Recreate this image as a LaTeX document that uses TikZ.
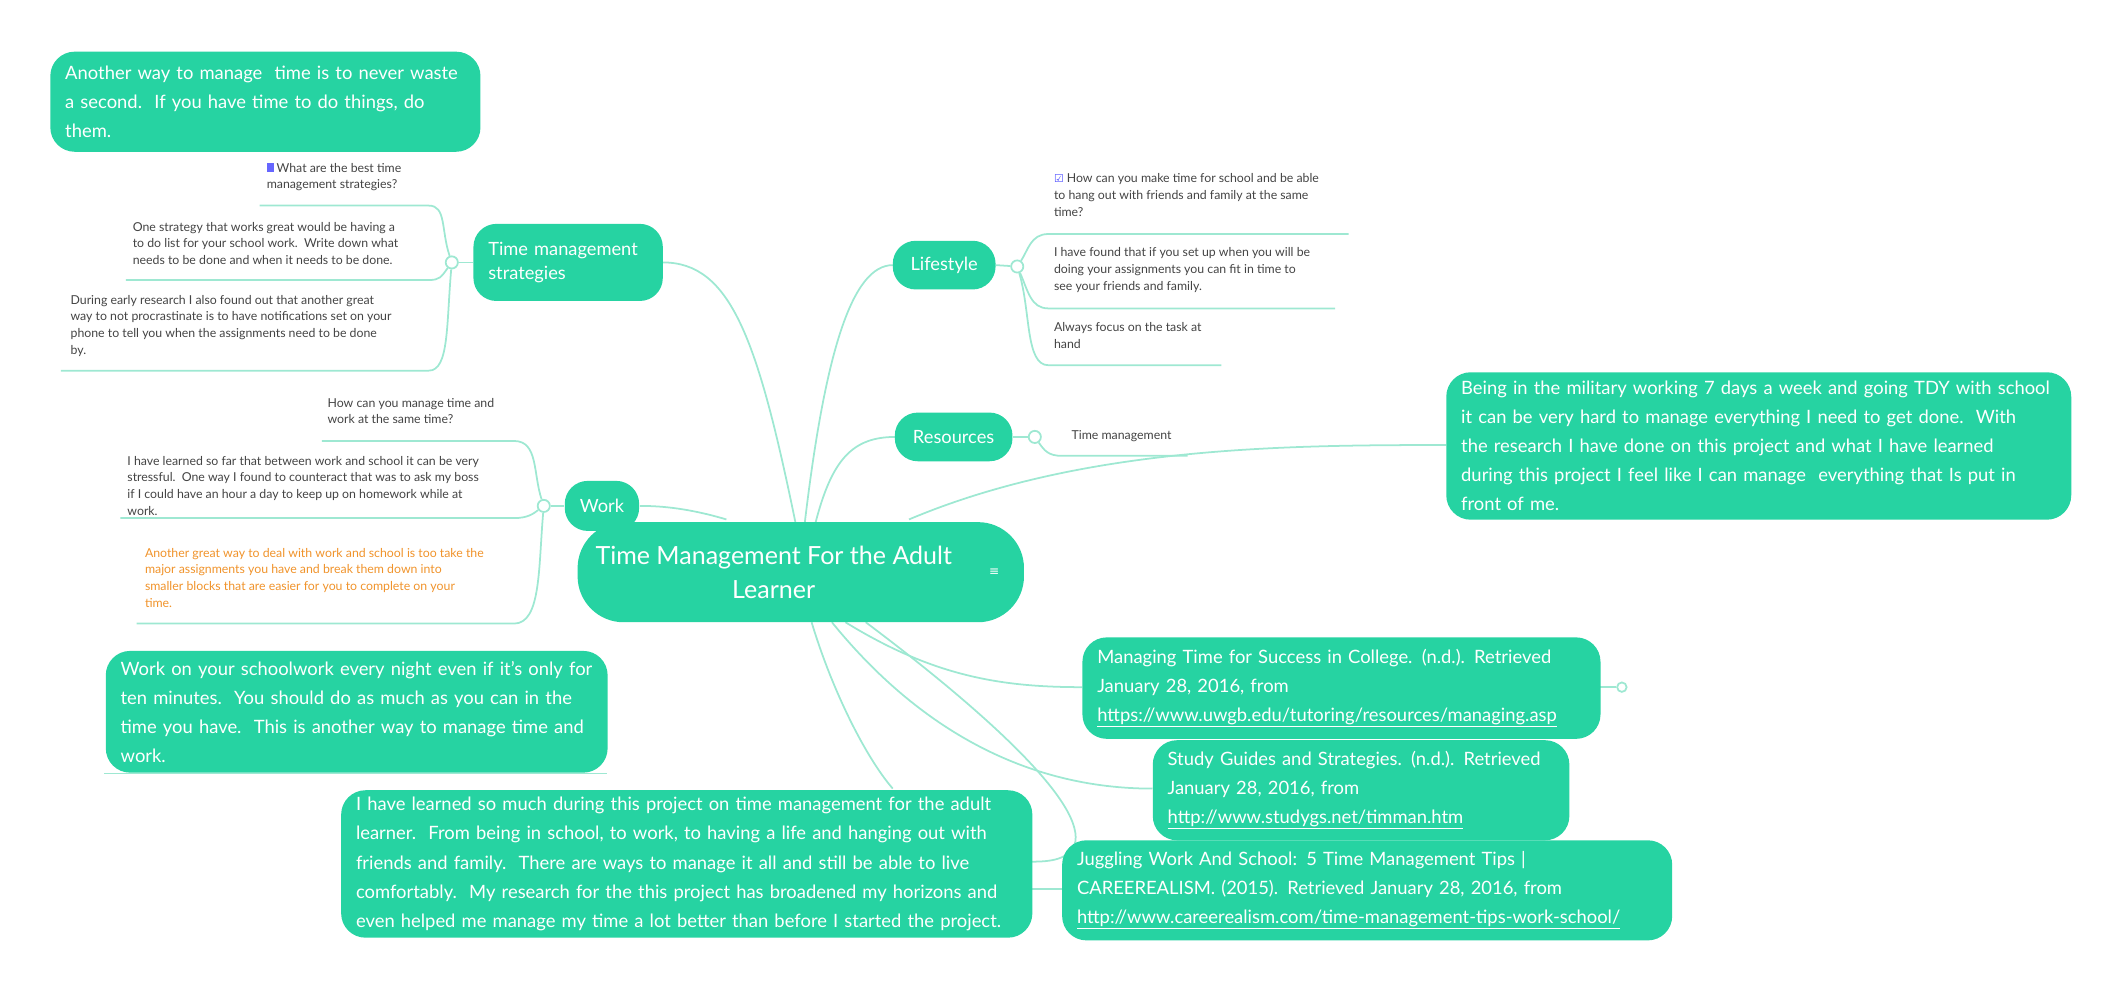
\documentclass[tikz,border=0pt]{standalone}
\usepackage{fontspec}
\setmainfont{Lato}
\newfontfamily\djv{DejaVu Sans}
\definecolor{tealbox}{HTML}{26D3A2}
\definecolor{lnc}{HTML}{9EE8D2}
\definecolor{txtg}{HTML}{444444}
\definecolor{orng}{HTML}{F0932B}
\begin{document}
\begin{tikzpicture}[x=1pt,y=-1pt,
 box/.style={fill=tealbox,text=white,rounded corners=18pt,inner xsep=11pt,inner ysep=0,align=left,anchor=north west,font=\fontsize{13.6}{21.5}\selectfont},
 topic/.style={fill=tealbox,text=white,rounded corners=17pt,inner sep=0,font=\fontsize{13.5}{18}\selectfont,align=left},
 small/.style={anchor=north west,inner sep=0,text=txtg,align=left,font=\fontsize{9.1}{12.4}\selectfont},
 conn/.style={draw=lnc,line width=1.3pt},
 hub/.style={circle,draw=lnc,fill=white,line width=1.3pt,minimum size=9pt,inner sep=0}]
\useasboundingbox (0,0) rectangle (1568,733);
% connectors first
\draw[conn] (588,386) .. controls (560,250) and (540,194) .. (490,194);
\draw[conn] (537,384) .. controls (510,376) and (490,374) .. (473,374);
\draw[conn] (595,386) .. controls (610,260) and (630,196) .. (660,196);
\draw[conn] (603,386) .. controls (615,340) and (630,323) .. (662,323);
\draw[conn] (672,384) .. controls (800,330) and (950,329) .. (1069,329);
\draw[conn] (625,460) .. controls (690,500) and (740,508) .. (800,508);
\draw[conn] (615,460) .. controls (680,540) and (760,583) .. (852,583);
\draw[conn] (640,460) .. controls (720,520) and (800,590) .. (795,622) .. controls (792,636) and (775,637) .. (763,637);
\draw[conn] (763,657) -- (785,657);
\draw[conn] (600,460) .. controls (615,510) and (640,560) .. (660,583);
\draw[conn] (1183,508) -- (1195,508);
\node[hub,minimum size=7pt] (coll) at (1199,508) {};
% root
\node[fill=tealbox,text=white,rounded corners=34pt,minimum width=330pt,minimum height=74pt,inner sep=0] (root) at (592,423) {};
\node[text=white,align=center,font=\fontsize{18.5}{25}\selectfont,inner sep=0] (rootlbl) at (572,423) {Time Management For the Adult\\Learner};
\node[text=white,font=\djv\fontsize{9}{9}\selectfont] (icon) at (735,423) {≡};
% Time management strategies
\node[topic,minimum width=140pt,minimum height=57pt,text width=118pt] (tms) at (420,194) {Time management\\strategies};
\node[hub] (htms) at (334,194) {};
\draw[conn] (tms.west) -- (htms);
\draw[conn] (htms) .. controls (326,170) and (330,152) .. (317,152) -- (192,152);
\draw[conn] (htms) .. controls (326,205) and (325,207) .. (317,207) -- (93,207);
\draw[conn] (htms) .. controls (330,240) and (332,274) .. (317,274) -- (45,274);
\node[small] (t1) at (197,120) {\textcolor{blue!60}{\rule{5pt}{7pt}} What are the best time\\management strategies?};
\node[small] (t2) at (98,164) {One strategy that works great would be having a\\to do list for your school work.\ \ Write down what\\needs to be done and when it needs to be done.};
\node[small] (t3) at (52,218) {During early research I also found out that another great\\way to not procrastinate is to have notifications set on your\\phone to tell you when the assignments need to be done\\by.};
% Work
\node[topic,minimum width=55pt,minimum height=37pt,align=center] (work) at (445,374) {Work};
\node[hub] (hw) at (402,374) {};
\draw[conn] (work.west) -- (hw);
\draw[conn] (hw) .. controls (394,350) and (398,326) .. (380,326) -- (238,326);
\draw[conn] (hw) .. controls (394,380) and (390,383) .. (380,383) -- (89,383);
\draw[conn] (hw) .. controls (398,420) and (400,461) .. (380,461) -- (101,461);
\node[small] (w1) at (242,294) {How can you manage time and\\work at the same time?};
\node[small] (w2) at (94,337) {I have learned so far that between work and school it can be very\\stressful.\ \ One way I found to counteract that was to ask my boss\\if I could have an hour a day to keep up on homework while at\\work.};
\node[small,text=orng] (w3) at (107,405) {Another great way to deal with work and school is too take the\\major assignments you have and break them down into\\smaller blocks that are easier for you to complete on your\\time.};
% Lifestyle
\node[topic,minimum width=76pt,minimum height=36pt,align=center] (life) at (698,196) {Lifestyle};
\node[hub] (hl) at (752,197) {};
\draw[conn] (life.east) -- (hl);
\draw[conn] (hl) .. controls (760,185) and (762,173) .. (775,173) -- (997,173);
\draw[conn] (hl) .. controls (760,215) and (762,228) .. (775,228) -- (987,228);
\draw[conn] (hl) .. controls (762,230) and (758,270) .. (775,270) -- (903,270);
\node[small] (l1) at (779,128) {\textcolor{blue!70}{\djv\fontsize{8}{8}\selectfont ☑} How can you make time for school and be able\\to hang out with friends and family at the same\\time?};
\node[small] (l2) at (779,183) {I have found that if you set up when you will be\\doing your assignments you can fit in time to\\see your friends and family.};
\node[small] (l3) at (779,238) {Always focus on the task at\\hand};
% Resources
\node[topic,minimum width=87pt,minimum height=36pt,align=center] (res) at (705,323) {Resources};
\node[hub] (hr) at (765,323) {};
\draw[conn] (res.east) -- (hr);
\draw[conn] (hr) .. controls (772,333) and (775,337) .. (785,337) -- (878,337);
\node[small] (r1) at (792,318) {Time management};
% big boxes
\node[box,minimum height=74pt,text width=296pt] (n1) at (37,38) {Another way to manage\ \ time is to never waste\\a second.\ \ If you have time to do things, do\\them.};
\node[box,minimum height=109pt,text width=440pt] (mil) at (1069,275) {Being in the military working 7 days a week and going TDY with school\\it can be very hard to manage everything I need to get done.\ \ With\\the research I have done on this project and what I have learned\\during this project I feel like I can manage\ \ everything that Is put in\\front of me.};
\node[box,minimum height=90pt,text width=349pt] (sw) at (78,481) {Work on your schoolwork every night even if it's only for\\ten minutes.\ \ You should do as much as you can in the\\time you have.\ \ This is another way to manage time and\\work.};
\draw[conn,line width=1pt] (77,572) -- (449,572);
\node[box,minimum height=109pt,text width=489pt] (learned) at (252,584) {I have learned so much during this project on time management for the adult\\learner.\ \ From being in school, to work, to having a life and hanging out with\\friends and family.\ \ There are ways to manage it all and still be able to live\\comfortably.\ \ My research for the this project has broadened my horizons and\\even helped me manage my time a lot better than before I started the project.};
\node[box,minimum height=75pt,text width=361pt] (mt) at (800,471) {Managing Time for Success in College. (n.d.). Retrieved\\January 28, 2016, from\\\underline{https://www.uwgb.edu/tutoring/resources/managing.asp}};
\node[box,minimum height=74pt,text width=286pt] (sg) at (852,547) {Study Guides and Strategies. (n.d.). Retrieved\\January 28, 2016, from\\\underline{http://www.studygs.net/timman.htm}};
\node[box,minimum height=74pt,text width=429pt] (jg) at (785,621) {Juggling Work And School: 5 Time Management Tips |\\CAREEREALISM. (2015). Retrieved January 28, 2016, from\\\underline{http://www.careerealism.com/time-management-tips-work-school/}};
\end{tikzpicture}
\end{document}
